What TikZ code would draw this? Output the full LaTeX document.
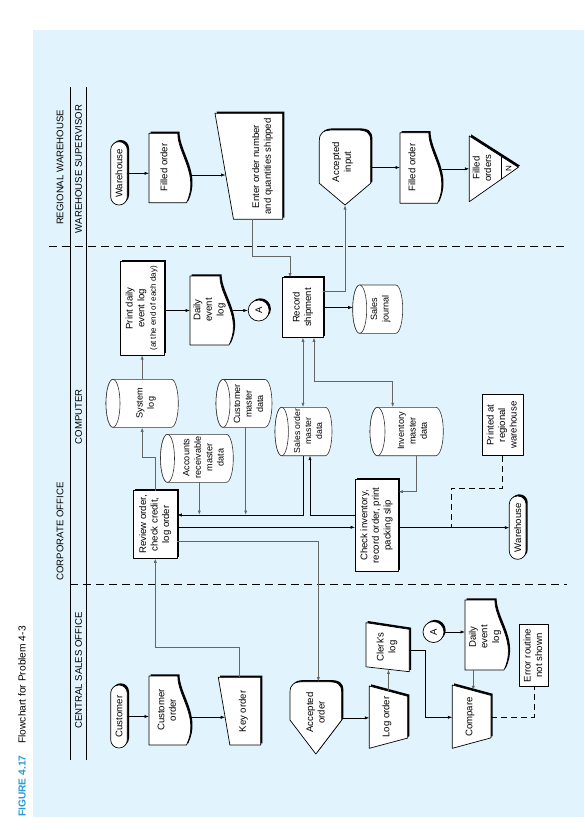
\documentclass[tikz,border=0pt]{standalone}
\usepackage{fontspec}
\setmainfont{Liberation Sans}
\usetikzlibrary{arrows.meta}
\definecolor{bgblue}{RGB}{225,243,252}
\definecolor{figblue}{RGB}{42,154,216}
\newcommand{\rtx}[1]{\rotatebox{90}{\begin{tabular}{@{}c@{}}#1\end{tabular}}}
\tikzset{
  fnt/.style={font=\fontsize{9.6}{11.6}\selectfont},
  shp/.style={draw=black, fill=white, line width=0.7pt, line join=round},
  shd/.style={preaction={fill=black, transform canvas={xshift=1.7pt,yshift=1.7pt}}},
  cyl/.style={draw=black!80, fill=white, line width=0.6pt},
  bb/.style 2 args={minimum width=#1pt, minimum height=#2pt, inner sep=0pt, outer sep=0pt},
  term/.style={shp, shd, rounded corners=8.2pt, fnt},
  proc/.style={shp, shd, fnt},
  plain/.style={shp, fnt},
  txt/.style={rotate=90, align=center, inner sep=0pt, fnt},
  ctxt/.style={rotate=90, align=center, inner sep=0pt, font=\fontsize{9.1}{11.4}\selectfont},
  stxt/.style={rotate=90, align=center, inner sep=0pt, font=\fontsize{8.7}{11}\selectfont},
  hdr/.style={rotate=90, inner sep=0pt, fnt},
  arr/.style={-{Latex[length=4.5pt,width=3.2pt]}, line width=0.6pt, black},
  garr/.style={-{Latex[length=4.5pt,width=3.2pt]}, line width=0.9pt, black!60},
  darr/.style={{Latex[length=4.5pt,width=3.2pt]}-{Latex[length=4.5pt,width=3.2pt]}, line width=0.9pt, black!60},
  dsh/.style={dash pattern=on 6pt off 4pt, line width=0.7pt},
  lane/.style={dash pattern=on 8pt off 5pt, line width=0.7pt},
  pics/doc/.style 2 args={code={
    \draw[shp,shd] ({-0.5*#1},{0.5*#2}) -- ({0.19*#1},{0.5*#2})
      .. controls ({0.19*#1},{0.2*#2}) and ({0.72*#1},{-0.1*#2}) .. ({0.4*#1},{-0.5*#2})
      -- ({-0.5*#1},{-0.5*#2}) -- cycle;
  }},
  pics/manin/.style 2 args={code={
    \draw[shp,shd] ({-0.5*#1},{0.5*#2}) -- ({0.5*#1},{0.5*#2}) -- ({0.5*#1},{-0.5*#2}) -- ({-0.227*#1},{-0.5*#2}) -- cycle;
  }},
  pics/manop/.style 2 args={code={
    \draw[shp,shd] ({-0.5*#1},{0.5*#2}) -- ({0.5*#1},{0.335*#2}) -- ({0.5*#1},{-0.335*#2}) -- ({-0.5*#1},{-0.5*#2}) -- cycle;
  }},
  pics/para/.style 2 args={code={
    \draw[shp,shd] ({-0.5*#1},{0.5*#2}) -- ({0.5*#1},{0.365*#2}) -- ({0.5*#1},{-0.5*#2}) -- ({-0.5*#1},{-0.4*#2}) -- cycle;
  }},
  pics/disp/.style n args={3}{code={
    \draw[shp,shd] ({-0.5*#1},{(0.5-#3)*#2}) -- ({-0.5*#1},{0.35*#2})
      .. controls ({-0.5*#1},{0.47*#2}) and ({-0.42*#1},{0.5*#2}) .. ({-0.22*#1},{0.5*#2})
      -- ({0.22*#1},{0.5*#2})
      .. controls ({0.42*#1},{0.5*#2}) and ({0.5*#1},{0.47*#2}) .. ({0.5*#1},{0.35*#2})
      -- ({0.5*#1},{(0.5-#3)*#2}) -- (0,{-0.5*#2}) -- cycle;
  }},
  pics/disk/.style n args={3}{code={
    \draw[cyl] ({-0.5*#1+#3},{0.5*#2}) -- ({0.5*#1-#3},{0.5*#2})
      arc[start angle=90, end angle=-90, x radius=#3, y radius={0.5*#2}]
      -- ({-0.5*#1+#3},{-0.5*#2})
      arc[start angle=270, end angle=90, x radius=#3, y radius={0.5*#2}] -- cycle;
    \draw[cyl] ({-0.5*#1+#3},0) ellipse[x radius=#3, y radius={0.5*#2}];
  }}
}
\begin{document}
\begin{tikzpicture}[x=1pt,y=1pt]
\useasboundingbox (0,0) rectangle (584,-830);
\fill[bgblue] (33,-30) rectangle (584,-817);

% caption
\node[rotate=90, anchor=west, inner sep=0pt, font=\fontsize{10.2}{12}\selectfont] (cap) at (22,-817)
  {\textcolor{figblue}{\textbf{FIGURE 4.17}}\hspace{12pt}Flowchart for Problem 4-3};

% lanes
\draw[line width=0.8pt] (70,-87) -- (70,-760);
\draw[line width=0.8pt] (86,-87) -- (86,-760);
\draw[lane] (49,-246) -- (567,-246);
\draw[lane] (70,-584) -- (567,-584);
\node[hdr] (h-rw) at (60,-167.5) {REGIONAL WAREHOUSE};
\node[hdr] (h-ws) at (78.5,-169) {WAREHOUSE SUPERVISOR};
\node[hdr] (h-co) at (60,-531.5) {CORPORATE OFFICE};
\node[hdr] (h-cp) at (78.5,-416.7) {COMPUTER};
\node[hdr] (h-cs) at (78.5,-670.5) {CENTRAL SALES OFFICE};

% ---- Central sales office
\node[term,bb={16.6}{63}] (cust) at (119,-716.5) {\rotatebox{90}{Customer}};
\pic at (169.85,-710.5) {doc={41.7}{69}};
\node[bb={41.7}{69}] (corder) at (169.85,-710.5) {};
\node[txt] (corder-t) at (166.8,-710) {Customer\\order};
\pic at (239.5,-711.15) {manin={42.4}{67.7}};
\node[bb={42.4}{67.7}] (key) at (239.5,-711.15) {};
\node[txt] (key-t) at (243.5,-711.5) {Key order};
\pic at (315.85,-717.85) {disp={51.7}{72.3}{0.53}};
\node[bb={51.7}{72.3}] (ao) at (315.85,-717.85) {};
\node[txt] (ao-t) at (315.5,-712.5) {Accepted\\order};
\pic at (388.5,-717.15) {manop={38.4}{62.3}};
\node[bb={38.4}{62.3}] (log) at (388.5,-717.15) {};
\node[txt] (log-t) at (387,-717) {Log order};
\pic at (387.65,-647.2) {para={43.3}{49}};
\node[bb={43.3}{49}] (clerk) at (387.65,-647.2) {};
\node[txt] (clerk-t) at (387,-647) {Clerk's\\log};
\node[shp,shd,circle,inner sep=0pt,minimum size=21pt,fnt] (conA2) at (433.5,-632) {\rotatebox{90}{A}};
\pic at (486.65,-635) {doc={43.3}{70}};
\node[bb={43.3}{70}] (del2) at (486.65,-635) {};
\node[txt] (del2-t) at (485,-637) {Daily\\event\\log};
\pic at (471.65,-716.65) {manop={38.7}{63.3}};
\node[bb={38.7}{63.3}] (cmp) at (471.65,-716.65) {};
\node[txt] (cmp-t) at (470,-717) {Compare};
\node[plain,bb={29.4}{62.4}] (err) at (534,-655.5) {\rtx{Error routine\\not shown}};

% ---- Computer
\node[proc,bb={44}{67.6}] (review) at (155.3,-524.5) {\rtx{Review order,\\check credit,\\log order}};
\pic at (142.15,-403.3) {disk={72.3}{48}{7}};
\node[bb={72.3}{48}] (syslog) at (142.15,-403.3) {};
\node[ctxt] (syslog-t) at (146,-403) {System\\log};
\pic at (196.9,-458.3) {disk={72.8}{48}{7}};
\node[bb={72.8}{48}] (ar) at (196.9,-458.3) {};
\node[ctxt] (ar-t) at (203.5,-457.5) {Accounts\\receivable\\master\\data};
\pic at (244,-403.4) {disk={56}{47.8}{7}};
\node[bb={56}{47.8}] (cm) at (244,-403.4) {};
\node[ctxt] (cm-t) at (248.5,-404) {Customer\\master\\data};
\node[proc,bb={44}{93.3}] (print) at (142,-308.35) {\rtx{Print daily\\event log\\{\fontsize{8}{10}\selectfont(at the end of each day)}}};
\pic at (211.65,-310.5) {doc={43.3}{69}};
\node[bb={43.3}{69}] (del1) at (211.65,-310.5) {};
\node[txt] (del1-t) at (209.5,-310) {Daily\\event\\log};
\node[shp,shd,circle,inner sep=0pt,minimum size=21pt,fnt] (conA1) at (258.7,-310.5) {\rotatebox{90}{A}};
\node[proc,bb={40.6}{59.6}] (rec) at (303,-307.5) {\rtx{Record\\shipment}};
\pic at (377.7,-309.15) {disk={50}{48.3}{7}};
\node[bb={50}{48.3}] (sj) at (377.7,-309.15) {};
\node[ctxt] (sj-t) at (380.5,-309) {Sales\\journal};
\pic at (303.5,-431.5) {disk={57}{48.4}{6.7}};
\node[bb={57}{48.4}] (som) at (303.5,-431.5) {};
\node[stxt] (som-t) at (308,-431) {Sales order\\master\\data};
\pic at (406.65,-431.5) {disk={73.3}{48.4}{7.5}};
\node[bb={73.3}{48.4}] (inv) at (406.65,-431.5) {};
\node[ctxt] (inv-t) at (412.5,-431) {Inventory\\master\\data};
\node[proc,bb={43.3}{92.4}] (chk) at (376.65,-525.5) {\rtx{Check inventory,\\record order, print\\packing slip}};
\node[term,bb={16.7}{63.3}] (wh2) at (517.65,-527.65) {\rotatebox{90}{Warehouse}};
\node[plain,bb={41}{61.4}] (printed) at (502.8,-425) {\rtx{Printed at\\regional\\warehouse}};

% ---- Regional warehouse
\node[term,bb={16.6}{63.3}] (wh1) at (119,-173.35) {\rotatebox{90}{Warehouse}};
\pic at (169.85,-168) {doc={41.7}{69.4}};
\node[bb={41.7}{69.4}] (fo1) at (169.85,-168) {};
\node[txt] (fo1-t) at (164,-167.5) {Filled order};
\pic at (248.85,-166.3) {manin={67.7}{106}};
\node[bb={67.7}{106}] (ent) at (248.85,-166.3) {};
\node[txt] (ent-t) at (262.5,-166.5) {Enter order number\\and quantities shipped};
\pic at (345,-167.5) {disp={51.4}{75}{0.71}};
\node[bb={51.4}{75}] (ai) at (345,-167.5) {};
\node[txt] (ai-t) at (342.5,-162) {Accepted\\input};
\pic at (420.85,-168) {doc={41.7}{70.6}};
\node[bb={41.7}{70.6}] (fo2) at (420.85,-168) {};
\node[txt] (fo2-t) at (412,-167.5) {Filled order};
\draw[shp,shd] (469.3,-136) -- (518.3,-167.3) -- (469.3,-201.7) -- cycle;
\draw[line width=0.6pt] (501.7,-156.7) -- (501.7,-179.3);
\node[bb={49}{65.7}] (tri) at (493.8,-168.85) {};
\node[txt] (tri-t) at (482,-168) {Filled\\orders};
\node[rotate=90, inner sep=0pt, font=\fontsize{8}{9}\selectfont] (tri-n) at (508.5,-168.5) {N};

% ---- helper coordinates
\coordinate (y515) at (0,-515);
\coordinate (y527) at (0,-527.3);
\coordinate (y541) at (0,-541.7);
\coordinate (y717) at (0,-717.3);
\coordinate (y491) at (0,-491.7);
\coordinate (y650) at (0,-650.7);
\coordinate (keyin) at (225.2,-717.3);
\coordinate (entin) at (225.6,-175);
\coordinate (arx) at (199.3,0);
\coordinate (cmx) at (245.7,0);
\coordinate (somx) at (310,0);
\coordinate (invx) at (416,0);
\coordinate (recx) at (314,0);
\coordinate (invx2) at (392.7,0);
\coordinate (cx425) at (425,0);
\coordinate (dj) at (451,-528.3);
\coordinate (logtop) at (388.5,-690.9);
\coordinate (clerkb) at (388.5,-669.3);
\coordinate (cmpin) at (473.3,-690.4);

% ---- connectors
\draw[arr] (cust.east) -- (cust.east -| corder.west);
\draw[arr] (corder.east |- keyin) -- (keyin);
\draw[garr] (key.north) -- ++(0,30) -| (review.south);
\draw[garr] (review.north) -- ++(0,33.4) -| (syslog.south);
\draw[garr] (syslog.north) -- (syslog.north |- print.south);
\draw[arr] (print.east |- del1) -- (del1.west);
\draw[arr] (del1.east |- conA1) -- (conA1.west);
\draw[garr] ([xshift=3.8pt]ent.south) -- ++(0,-36.7) -| ([xshift=-13pt]rec.north);
\draw[garr] ([yshift=15.8pt]rec.east) -| (ai.south);
\draw[arr] (rec.east) -- (rec.east -| sj.west);
\draw[arr] (ai.east) -- (ai.east -| fo2.west);
\draw[arr] (fo2.east |- tri.west) -- (tri.west);
\draw[arr] (wh1.east) -- (wh1.east -| fo1.west);
\draw[arr] (fo1.east |- entin) -- (entin);
\draw[garr] (review.east |- y541) -| ([xshift=2.5pt]ao.north);
\draw[arr] (review.east |- y527) -- (chk.west |- y527);
\draw[arr] (som.south) |- (review.east |- y515);
\draw[garr] (arx |- ar.south) -- (arx |- y515);
\draw[garr] (cmx |- cm.south) -- (cmx |- y515);
\draw[arr] (chk.west |- y515) -| (somx |- som.south);
\draw[garr] (invx |- inv.south) |- (chk.east |- y491);
\draw[arr] (chk.east |- wh2.west) -- (wh2.west);
\draw[dsh] (printed.south) -- ++(0,-32.6) -| (dj);
\draw[darr] (rec.south) -- (rec.south |- som.north);
\draw[darr] (recx |- rec.south) -- ++(0,-44.4) -| (invx2 |- inv.north);
\draw[arr] (ao.east) -- (ao.east -| log.west);
\draw[garr] (log.north |- logtop) -- (clerkb);
\draw[arr] (clerk.east |- y650) -- (cx425 |- y650) |- (cmp.west |- y717);
\draw[arr] (conA2.east) -- (conA2.east -| del2.west);
\draw[garr] (cmpin |- del2.south) -- (cmpin);
\draw[dsh] (cmp.east |- y717) -| (err.south);
\end{tikzpicture}
\end{document}
